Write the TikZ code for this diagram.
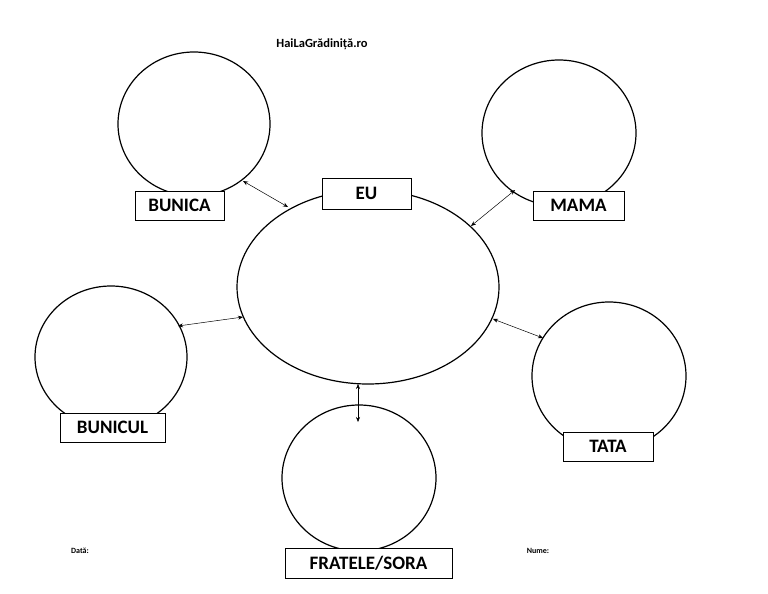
\documentclass[tikz,border=0pt]{standalone}
\usepackage{fontspec}
\setmainfont{Carlito}
\usetikzlibrary{arrows.meta}
\begin{document}
\begin{tikzpicture}[x=1pt,y=-1pt,
  lbl/.style={draw,fill=white,line width=0.8pt,font=\bfseries\fontsize{19}{21}\selectfont,inner sep=0pt},
  con/.style={{Stealth[length=5pt,width=4pt]}-{Stealth[length=5pt,width=4pt]},line width=0.5pt}]
\useasboundingbox (0,0) rectangle (768,594);
\node[font=\bfseries\fontsize{12.5}{14}\selectfont] (title) at (322,44) {HaiLaGrădiniță.ro};
\draw[line width=1.2pt] (368,287) ellipse [x radius=131, y radius=97];
\draw[line width=1.2pt] (194,124) ellipse [x radius=76, y radius=72];
\draw[line width=1.2pt] (559,133) ellipse [x radius=77, y radius=73];
\draw[line width=1.2pt] (111,357) ellipse [x radius=76, y radius=71];
\draw[line width=1.2pt] (609,376) ellipse [x radius=77, y radius=74];
\draw[line width=1.2pt] (359,478) ellipse [x radius=77, y radius=73];
\node[lbl,minimum width=89pt,minimum height=31pt] (eu) at (366.5,193.5) {EU};
\node[lbl,minimum width=89pt,minimum height=29pt] (bunica) at (179.5,205.5) {BUNICA};
\node[lbl,minimum width=91pt,minimum height=29pt] (mama) at (578.5,205.5) {MAMA};
\node[lbl,minimum width=105pt,minimum height=29pt] (bunicul) at (112.5,427.5) {BUNICUL};
\node[lbl,minimum width=90pt,minimum height=29pt] (tata) at (608,446.5) {TATA};
\node[lbl,minimum width=167pt,minimum height=30pt] (frate) at (368.5,563) {FRATELE/SORA};
\coordinate (a1) at (243,181); \coordinate (b1) at (288,207);
\coordinate (a2) at (515,190); \coordinate (b2) at (471,226);
\coordinate (a3) at (178,326); \coordinate (b3) at (243,317);
\coordinate (a4) at (543,338); \coordinate (b4) at (493,319);
\coordinate (a5) at (358,422); \coordinate (b5) at (358,384);
\draw[con] (a1) -- (b1);
\draw[con] (a2) -- (b2);
\draw[con] (a3) -- (b3);
\draw[con] (a4) -- (b4);
\draw[con] (a5) -- (b5);
\node[font=\bfseries\fontsize{8}{9}\selectfont] (data) at (80,551) {Dată:};
\node[font=\bfseries\fontsize{8}{9}\selectfont] (nume) at (538,551) {Nume:};
\end{tikzpicture}
\end{document}
